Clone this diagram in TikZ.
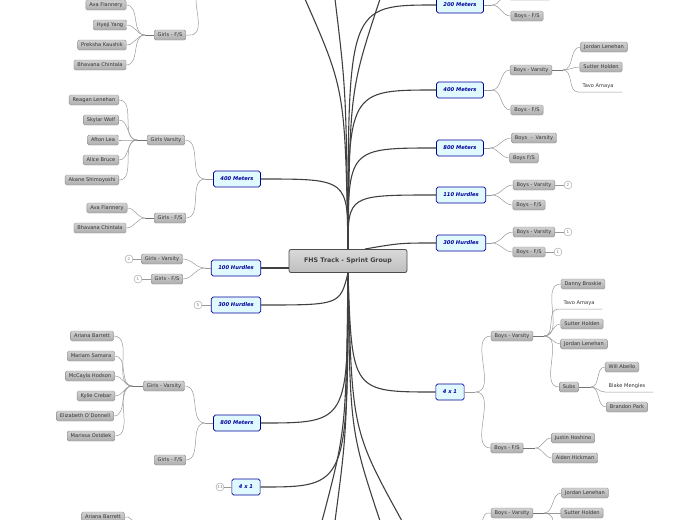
\documentclass[tikz,border=0pt]{standalone}
\usepackage{fontspec}
\setmainfont{DejaVu Sans}
\begin{document}
\begin{tikzpicture}[x=1pt,y=-1pt,
 gn/.style={draw=black!45,top color=black!18,bottom color=black!32,rounded corners=1.5pt,
   font=\fontsize{5.1}{5.5}\selectfont,text=black!80,inner xsep=3.5pt,inner ysep=0pt,minimum height=10pt},
 bn/.style={draw=blue!60!black,fill=blue!20!cyan!12,rounded corners=1.8pt,line width=0.7pt,
   font=\fontsize{5.2}{5.5}\selectfont\bfseries\itshape,text=blue!60!black,minimum height=16pt,inner xsep=7pt},
 rn/.style={draw=black!70,top color=black!15,bottom color=black!25,rounded corners=2pt,line width=0.8pt,
   font=\fontsize{6.3}{7}\selectfont\bfseries,text=black!75,minimum height=23pt,minimum width=118pt},
 cn/.style={circle,draw=black!40,fill=white,inner sep=0pt,minimum size=8pt,font=\fontsize{4}{4}\selectfont,text=black!50},
 tn/.style={font=\fontsize{5.1}{5.5}\selectfont,text=black!80,inner xsep=2pt},
 ln/.style={draw=black!40,line width=0.5pt},
 sl/.style={draw=black!55,line width=1pt},
 rl/.style={draw=black!75,line width=1.1pt}]
\useasboundingbox (0,0) rectangle (697,520);
% root
\node[rn] (root) at (348,261) {FHS Track - Sprint Group};
\coordinate (rc) at (348,249);
\coordinate (rb) at (348,273);
% blue nodes
\node[bn] (b200) at (460,5) {200 Meters};
\node[bn] (b400) at (460,90) {400 Meters};
\node[bn] (b800) at (460,148) {800 Meters};
\node[bn] (b110) at (461,195) {110 Hurdles};
\node[bn] (b300) at (461,243) {300 Hurdles};
\node[bn] (b4) at (450,392) {4 x 1};
\node[bn] (l400) at (237,179) {400 Meters};
\node[bn] (l100) at (236,268) {100 Hurdles};
\node[bn] (l300) at (236,305) {300 Hurdles};
\node[bn] (l800) at (237,423) {800 Meters};
\node[bn] (l4) at (246,487) {4 x 1};
% root lines
\foreach \n/\y in {b200/5,b400/90,b800/148,b110/195}
  \draw[rl] (rc) .. controls (348,\y) .. (\n.west);
\draw[rl] (b300.west) .. controls (400,243) .. (365,249);
\draw[rl] (b4.west) .. controls (352,392) .. (rb);
\draw[rl] (l400.east) .. controls (348,179) .. (rc);
\draw[rl] (l100.east) -- (root.west|-l100.east);
\draw[rl] (l300.east) .. controls (340,305) .. (rb);
\draw[rl] (l800.east) .. controls (348,423) .. (rb);
\draw[rl] (l4.east) .. controls (348,487) .. (rb);
\draw[rl] (rc) .. controls (345,90) .. (305,-1);
\draw[rl] (rc) .. controls (346,90) .. (335,-1);
\draw[rl] (rc) .. controls (350,90) .. (380,-1);
\draw[rl] (rb) .. controls (346,430) .. (322,521);
\draw[rl] (rb) .. controls (347,430) .. (335,521);
\draw[rl] (rb) .. controls (350,430) .. (380,521);
\draw[rl] (rb) .. controls (352,430) .. (402,521);
% ---- left top
\node[gn] (a1) at (106,5) {Ava Flannery};
\node[gn] (a2) at (110,25) {Hyeji Yang};
\node[gn] (a3) at (102,45) {Preksha Kaushik};
\node[gn] (a4) at (100,65) {Bhavana Chintala};
\node[gn] (ag) at (170,35) {Girls - F/S};
\draw[sl] (ag.west) -- ++(-9,0) coordinate (as);
\foreach \c in {a1,a2,a3,a4} \draw[ln] (as) to[out=180,in=0] (\c.east);
\draw[ln] (ag.east) -- ++(4,0) to[out=0,in=-90] (196,-1);
% 400 left
\node[gn] (c1) at (94,100) {Reagan Lenehan};
\node[gn] (c2) at (101,120) {Skylar Wolf};
\node[gn] (c3) at (103,140) {Afton Lea};
\node[gn] (c4) at (101,160) {Alice Bruce};
\node[gn] (c5) at (92,180) {Akane Shimoyoshi};
\node[gn] (cg) at (166,140) {Girls Varsity};
\draw[sl] (cg.west) -- ++(-10,0) coordinate (cs);
\foreach \c in {c1,c2,c3,c4,c5} \draw[ln] (cs) to[out=180,in=0] (\c.east);
\node[gn] (d1) at (107,208) {Ava Flannery};
\node[gn] (d2) at (100,228) {Bhavana Chintala};
\node[gn] (dg) at (170,218) {Girls - F/S};
\draw[sl] (dg.west) -- ++(-9,0) coordinate (ds);
\foreach \c in {d1,d2} \draw[ln] (ds) to[out=180,in=0] (\c.east);
\draw[ln] (l400.west) -- ++(-8,0) coordinate (ls4);
\draw[ln] (ls4) to[out=180,in=0] (cg.east);
\draw[ln] (ls4) to[out=180,in=0] (dg.east);
% 100 hurdles left
\node[gn] (e1) at (162,259) {Girls - Varsity};
\node[gn] (e2) at (167,279) {Girls - F/S};
\draw[ln] (l100.west) -- ++(-6,0) coordinate (es);
\draw[ln] (es) to[out=180,in=0] (e1.east);
\draw[ln] (es) to[out=180,in=0] (e2.east);
\node[cn] (k1) at (129,259) {2};
\node[cn] (k2) at (138,279) {1};
\node[cn] (k3) at (198,305) {5};
\draw[ln] (e1.west) -- (k1);
\draw[ln] (e2.west) -- (k2);
\draw[ln] (l300.west) -- (k3);
% 800 left
\node[gn] (f1) at (92,336) {Ariana Barrett};
\node[gn] (f2) at (91,356) {Mariam Samara};
\node[gn] (f3) at (90,376) {McCayla Hodson};
\node[gn] (f4) at (96,396) {Kylie Crebar};
\node[gn] (f5) at (85,416) {Elizabeth O'Donnell};
\node[gn] (f6) at (91,436) {Marissa Ostdiek};
\node[gn] (fg) at (164,386) {Girls - Varsity};
\draw[sl] (fg.west) -- ++(-11,0) coordinate (fs);
\foreach \c in {f1,f2,f3,f4,f5,f6} \draw[ln] (fs) to[out=180,in=0] (\c.east);
\node[gn] (fh) at (170,460) {Girls - F/S};
\draw[ln] (l800.west) -- ++(-8,0) coordinate (ls8);
\draw[ln] (ls8) to[out=180,in=0] (fg.east);
\draw[ln] (ls8) to[out=180,in=0] (fh.east);
\node[cn] (k4) at (220,487) {13};
\draw[ln] (l4.west) -- (k4);
\node[gn] (g1) at (103,517) {Ariana Barrett};
\draw[ln] (g1.east) -- ++(3,0) to[out=0,in=-90] (134,521);
% ---- right top
\node[gn] (h0) at (530,-5) {Boys - Varsity};
\node[cn] (k5) at (565,-5) {2};
\draw[ln] (h0.east) -- (k5);
\node[gn] (h1) at (527,16) {Boys - F/S};
\draw[ln] (b200.east) -- ++(8,0) coordinate (hs);
\draw[ln] (hs) to[out=0,in=180] (h0.west);
\draw[ln] (hs) to[out=0,in=180] (h1.west);
% 400 right
\node[gn] (i1) at (531,70) {Boys - Varsity};
\node[gn] (i2) at (527,110) {Boys - F/S};
\draw[ln] (b400.east) -- ++(8,0) coordinate (is);
\draw[ln] (is) to[out=0,in=180] (i1.west);
\draw[ln] (is) to[out=0,in=180] (i2.west);
\node[gn] (j1) at (604,47) {Jordan Lenehan};
\node[gn] (j2) at (601,67) {Sutter Holden};
\node[tn] (j3) at (598,86) {Tavo Amaya};
\draw[sl] (i1.east) -- ++(11,0) coordinate (js);
\draw[ln] (js) to[out=0,in=180] (j1.west);
\draw[ln] (js) to[out=0,in=180] (j2.west);
\draw[ln] (js) to[out=0,in=180] (578,92) -- (622,92);
% 800 right
\node[gn] (m1) at (534,138) {Boys \ - \ Varsity};
\node[gn] (m2) at (524,158) {Boys F/S};
\draw[ln] (b800.east) -- ++(6,0) coordinate (ms);
\draw[ln] (ms) to[out=0,in=180] (m1.west);
\draw[ln] (ms) to[out=0,in=180] (m2.west);
% 110
\node[gn] (n1) at (534,185) {Boys - Varsity};
\node[gn] (n2) at (529,205) {Boys - F/S};
\node[cn] (k6) at (568,185) {2};
\draw[ln] (n1.east) -- (k6);
\draw[ln] (b110.east) -- ++(6,0) coordinate (ns);
\draw[ln] (ns) to[out=0,in=180] (n1.west);
\draw[ln] (ns) to[out=0,in=180] (n2.west);
% 300
\node[gn] (o1) at (534,232) {Boys - Varsity};
\node[gn] (o2) at (529,252) {Boys - F/S};
\node[cn] (k7) at (568,232) {1};
\node[cn] (k8) at (558,252) {1};
\draw[ln] (o1.east) -- (k7);
\draw[ln] (o2.east) -- (k8);
\draw[ln] (b300.east) -- ++(6,0) coordinate (os);
\draw[ln] (os) to[out=0,in=180] (o1.west);
\draw[ln] (os) to[out=0,in=180] (o2.west);
% 4x1 right
\node[gn] (p1) at (512,336) {Boys - Varsity};
\node[gn] (p2) at (507,448) {Boys - F/S};
\draw[ln] (b4.east) -- ++(11,0) coordinate (ps);
\draw[ln] (ps) to[out=0,in=180] (p1.west);
\draw[ln] (ps) to[out=0,in=180] (p2.west);
\node[gn] (q1) at (583,284) {Danny Broskie};
\node[tn] (q2) at (579,303) {Tavo Amaya};
\node[gn] (q3) at (582,324) {Sutter Holden};
\node[gn] (q4) at (584,344) {Jordan Lenehan};
\node[gn] (q5) at (569,387) {Subs};
\draw[sl] (p1.east) -- ++(11,0) coordinate (qs);
\foreach \c in {q1,q3,q4,q5} \draw[ln] (qs) to[out=0,in=180] (\c.west);
\draw[ln] (qs) to[out=0,in=180] (558,309) -- (602,309);
\node[gn] (r1) at (622,367) {Will Abello};
\node[tn] (r2) at (627,386) {Blake Mengles};
\node[gn] (r3) at (627,407) {Brandon Park};
\draw[sl] (q5.east) -- ++(12,0) coordinate (rs);
\draw[ln] (rs) to[out=0,in=180] (r1.west);
\draw[ln] (rs) to[out=0,in=180] (r3.west);
\draw[ln] (rs) to[out=0,in=180] (605,392) -- (653,392);
\node[gn] (s1) at (573,438) {Justin Hoshino};
\node[gn] (s2) at (575,458) {Aiden Hickman};
\draw[sl] (p2.east) -- ++(12,0) coordinate (ss);
\draw[ln] (ss) to[out=0,in=180] (s1.west);
\draw[ln] (ss) to[out=0,in=180] (s2.west);
% bottom right
\node[gn] (t0) at (512,513) {Boys - Varsity};
\node[gn] (t1) at (585,493) {Jordan Lenehan};
\node[gn] (t2) at (582,513) {Sutter Holden};
\draw[sl] (t0.east) -- ++(11,0) coordinate (ts);
\draw[ln] (ts) to[out=0,in=180] (t1.west);
\draw[ln] (ts) -- (t2.west);
\draw[ln] (ts) to[out=0,in=90] (553,521);
\draw[ln] (t0.west) -- ++(-4,0) to[out=180,in=-90] (482,521);
\end{tikzpicture}
\end{document}
